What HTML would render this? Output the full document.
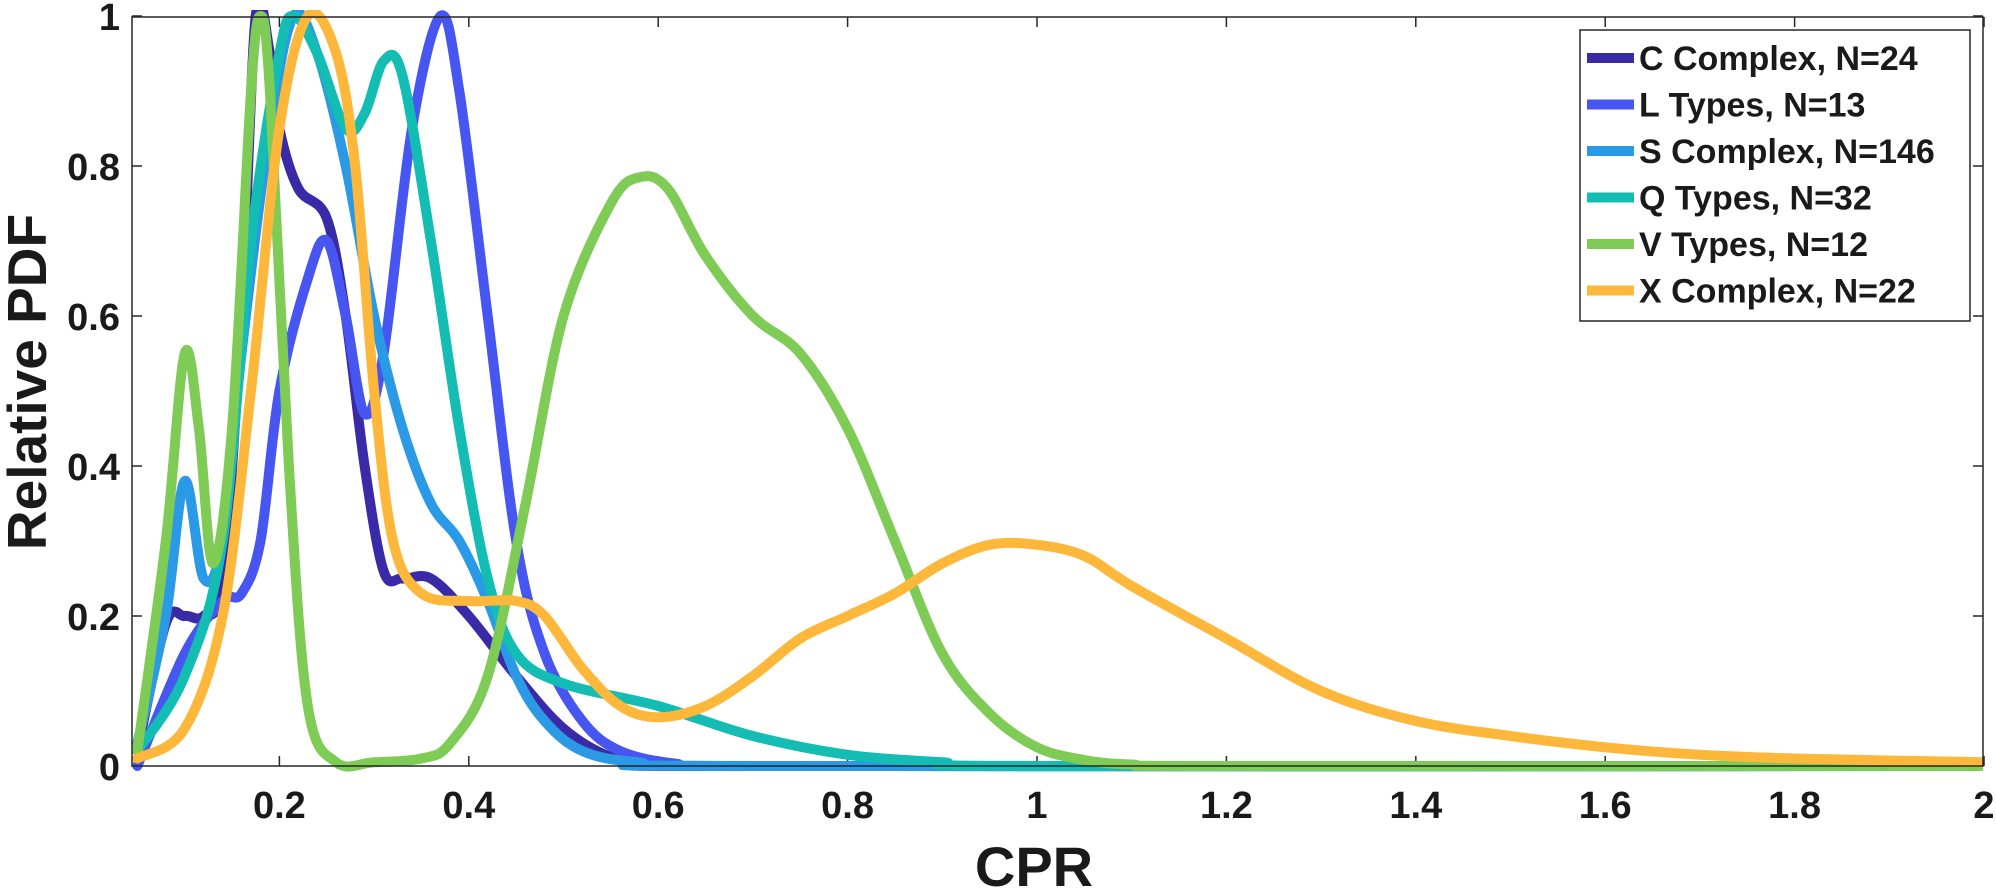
<!DOCTYPE html>
<html><head><meta charset="utf-8"><style>
html,body{margin:0;padding:0;background:#fff}
svg{display:block}
text{font-family:"Liberation Sans",Arial,sans-serif;font-weight:bold;fill:#1a1a1a}
</style></head><body>
<svg id="s" width="1996" height="891" viewBox="0 0 1996 891" xmlns="http://www.w3.org/2000/svg">
<defs><clipPath id="c"><rect x="132" y="10" width="1851" height="762"/></clipPath></defs>
<g id="axes"></g>
<g id="curves" clip-path="url(#c)" fill="none" stroke-width="10" stroke-linejoin="round" stroke-linecap="round"></g>
<rect x="132" y="17" width="1851" height="749" fill="none" stroke="#262626" stroke-width="1.5"/>
<g id="leg"></g>
<text x="1034" y="886" font-size="56" text-anchor="middle">CPR</text>
<text transform="translate(46,382) rotate(-90)" font-size="55" text-anchor="middle">Relative PDF</text>
</svg>
<script>
const X=x=>90+947*x, Y=y=>766-750*y;
const ns="http://www.w3.org/2000/svg";
function el(p,t,a,txt){const e=document.createElementNS(ns,t);for(const k in a)e.setAttribute(k,a[k]);if(txt!=null)e.textContent=txt;p.appendChild(e);return e;}
const ax=document.getElementById('axes');
for(let i=1;i<=10;i++){const v=i*0.2,x=X(v);
 el(ax,'line',{x1:x,x2:x,y1:766,y2:756,stroke:'#262626','stroke-width':1.5});
 el(ax,'line',{x1:x,x2:x,y1:17,y2:27,stroke:'#262626','stroke-width':1.5});
 el(ax,'text',{x:x,y:818,'font-size':38,'text-anchor':'middle'},(Math.round(v*10)/10).toString());}
for(let i=0;i<=5;i++){const v=i*0.2,y=Y(v);
 el(ax,'line',{x1:132,x2:142,y1:y,y2:y,stroke:'#262626','stroke-width':1.5});
 el(ax,'line',{x1:1983,x2:1973,y1:y,y2:y,stroke:'#262626','stroke-width':1.5});
 el(ax,'text',{x:120,y:y+14,'font-size':38,'text-anchor':'end'},(Math.round(v*10)/10).toString());}
const D={
C:["#3b2aa8",[[0.05,0.02],[0.08,0.19],[0.1,0.2],[0.12,0.2],[0.14,0.25],[0.16,0.6],[0.175,1.0],[0.19,0.95],[0.2,0.85],[0.22,0.77],[0.25,0.73],[0.27,0.6],[0.29,0.4],[0.31,0.26],[0.33,0.25],[0.36,0.25],[0.4,0.2],[0.45,0.12],[0.5,0.05],[0.55,0.012],[0.6,0.003],[0.7,0],[2,0]]],
L:["#4756f0",[[0.05,0],[0.1,0.15],[0.14,0.22],[0.16,0.23],[0.18,0.3],[0.2,0.5],[0.23,0.65],[0.25,0.7],[0.27,0.6],[0.29,0.47],[0.31,0.55],[0.34,0.85],[0.37,1.0],[0.39,0.9],[0.42,0.6],[0.45,0.3],[0.48,0.15],[0.52,0.06],[0.56,0.02],[0.62,0.003],[0.7,0],[2,0]]],
S:["#2a99e6",[[0.05,0.03],[0.08,0.2],[0.1,0.38],[0.12,0.25],[0.14,0.3],[0.16,0.55],[0.19,0.85],[0.215,1.0],[0.24,0.95],[0.27,0.8],[0.3,0.6],[0.33,0.45],[0.36,0.35],[0.39,0.3],[0.42,0.22],[0.45,0.12],[0.48,0.06],[0.52,0.02],[0.58,0.005],[0.7,0],[2,0]]],
Q:["#14bdb4",[[0.05,0.02],[0.1,0.12],[0.14,0.3],[0.17,0.7],[0.2,0.95],[0.215,1.0],[0.24,0.95],[0.27,0.85],[0.29,0.87],[0.31,0.94],[0.33,0.92],[0.36,0.7],[0.39,0.45],[0.42,0.25],[0.45,0.15],[0.5,0.11],[0.6,0.08],[0.7,0.04],[0.8,0.015],[0.9,0.005],[1.0,0],[2,0]]],
V:["#7ecb55",[[0.05,0.02],[0.08,0.3],[0.1,0.55],[0.115,0.45],[0.13,0.27],[0.15,0.45],[0.17,0.9],[0.18,1.0],[0.19,0.9],[0.21,0.4],[0.23,0.08],[0.26,0.005],[0.3,0.005],[0.35,0.01],[0.38,0.03],[0.42,0.12],[0.46,0.35],[0.5,0.6],[0.55,0.75],[0.58,0.785],[0.61,0.77],[0.65,0.68],[0.7,0.6],[0.75,0.55],[0.8,0.45],[0.85,0.3],[0.9,0.15],[0.95,0.07],[1.0,0.025],[1.05,0.008],[1.1,0.002],[1.2,0],[2,0]]],
X:["#fdb83c",[[0.05,0.01],[0.1,0.05],[0.14,0.2],[0.17,0.5],[0.2,0.85],[0.23,1.0],[0.26,0.95],[0.28,0.8],[0.3,0.5],[0.32,0.3],[0.35,0.23],[0.4,0.22],[0.45,0.22],[0.48,0.2],[0.52,0.13],[0.56,0.08],[0.6,0.065],[0.65,0.08],[0.7,0.12],[0.75,0.17],[0.8,0.2],[0.85,0.23],[0.9,0.27],[0.95,0.295],[1.0,0.295],[1.05,0.28],[1.1,0.24],[1.2,0.17],[1.3,0.1],[1.4,0.06],[1.5,0.04],[1.6,0.025],[1.7,0.015],[1.8,0.01],[2,0.005]]]
};
function path(pts){const p=pts.map(q=>[X(q[0]),Y(q[1])]);let d=`M${p[0][0]},${p[0][1]}`;
 for(let i=0;i<p.length-1;i++){const a=p[i-1]||p[i],b=p[i],c=p[i+1],e=p[i+2]||c;
  const c1=[b[0]+(c[0]-a[0])/6,b[1]+(c[1]-a[1])/6],c2=[c[0]-(e[0]-b[0])/6,c[1]-(e[1]-b[1])/6];
  d+=` C${c1[0].toFixed(1)},${c1[1].toFixed(1)} ${c2[0].toFixed(1)},${c2[1].toFixed(1)} ${c[0].toFixed(1)},${c[1].toFixed(1)}`;}
 return d;}
const cg=document.getElementById('curves');
for(const k of ["C","L","S","Q","V","X"]) el(cg,'path',{d:path(D[k][1]),stroke:D[k][0]});
const lg=document.getElementById('leg');
el(lg,'rect',{x:1580,y:30,width:390,height:291,fill:'#fff',stroke:'#262626','stroke-width':1.5});
const labs=["C Complex, N=24","L Types, N=13","S Complex, N=146","Q Types, N=32","V Types, N=12","X Complex, N=22"];
["C","L","S","Q","V","X"].forEach((k,i)=>{const y=58+i*46.5;
 el(lg,'line',{x1:1587,x2:1634,y1:y,y2:y,stroke:D[k][0],'stroke-width':10});
 el(lg,'text',{x:1639,y:y+12,'font-size':34},labs[i]);});
</script>
</body></html>
